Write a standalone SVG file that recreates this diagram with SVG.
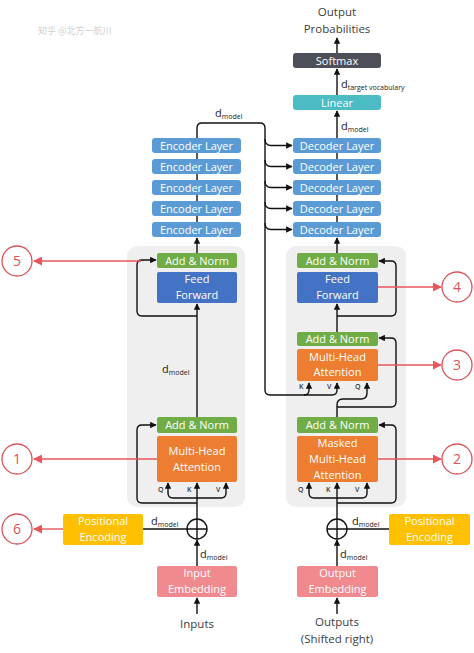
<svg xmlns="http://www.w3.org/2000/svg" width="474" height="653" viewBox="0 0 474 653">
<defs>
<marker id="ah" viewBox="0 0 10 10" refX="9" refY="5" markerWidth="6.5" markerHeight="6.5" markerUnits="userSpaceOnUse" orient="auto"><path d="M0,0 L10,5 L0,10 z" fill="#111"/></marker>
<marker id="rh" viewBox="0 0 10 10" refX="9" refY="5" markerWidth="9" markerHeight="9" markerUnits="userSpaceOnUse" orient="auto"><path d="M0,0 L10,5 L0,10 z" fill="#e8555b"/></marker>
<style>
text{font-family:"Open Sans","Noto Sans","DejaVu Sans",sans-serif}
.bt{fill:#fff;font-size:11px;text-anchor:middle}
.lb{fill:#404040;font-size:11.5px;text-anchor:middle}
.d{fill:#222;font-size:11px}
.d tspan{font-size:7px}
.qkv{fill:#333;font-size:7px;font-weight:600}
.ln{fill:none;stroke:#111;stroke-width:1.4}
.rd{fill:none;stroke:#e8555b;stroke-width:1.4}
.cir{fill:#fff;stroke:#d9545a;stroke-width:1.3}
.num{fill:#d9545a;font-size:14px;text-anchor:middle}
.enc{fill:#5b9bd5}.ff{fill:#4472c4}.an{fill:#70ad47}.mha{fill:#ed7d31}.pe{fill:#ffc000}.emb{fill:#f08a8f}
</style>
</defs>
<rect width="474" height="653" fill="#fff"/>
<text x="38" y="34" style="font-family:'Noto Sans CJK SC',sans-serif;font-size:9px;fill:#cfcfcf">知乎 @北方一航川</text>

<g id="enc-bg"><rect x="127" y="246" width="118" height="261" rx="10" fill="#efefef"/></g>
<g id="dec-bg"><rect x="286" y="246" width="120" height="261" rx="10" fill="#efefef"/></g>

<g id="connectors">
<path class="ln" d="M197,614 V598" marker-end="url(#ah)"/>
<path class="ln" d="M197,566 V540" marker-end="url(#ah)"/>
<path class="ln" d="M143,529 H187"/>
<path class="ln" d="M197,519 V483" marker-end="url(#ah)"/>
<path class="ln" d="M197,498 H173 Q168,498 168,493 V483" marker-end="url(#ah)"/>
<path class="ln" d="M197,498 H221 Q226,498 226,493 V483" marker-end="url(#ah)"/>
<path class="ln" d="M197,503 H142 Q137,503 137,498 V430 Q137,425 142,425 H156" marker-end="url(#ah)"/>
<path class="ln" d="M197,417 V304" marker-end="url(#ah)"/>
<path class="ln" d="M197,316 H142 Q137,316 137,311 V265 Q137,260 142,260 H156" marker-end="url(#ah)"/>
<path class="ln" d="M197,253 V238" marker-end="url(#ah)"/>
<path class="ln" d="M197,237 V128 Q197,123 202,123 H260 Q265,123 265,128 V390 Q265,395 270,395 H332 Q337,395 337,390 V383" marker-end="url(#ah)"/>
<path class="ln" d="M304,395 Q309,395 309,390 V383" marker-end="url(#ah)"/>
<path class="ln" d="M265,139 Q265,145.5 271,145.5 H292" marker-end="url(#ah)"/>
<path class="ln" d="M265,160 Q265,166.5 271,166.5 H292" marker-end="url(#ah)"/>
<path class="ln" d="M265,181 Q265,187.5 271,187.5 H292" marker-end="url(#ah)"/>
<path class="ln" d="M265,202 Q265,208.5 271,208.5 H292" marker-end="url(#ah)"/>
<path class="ln" d="M265,223 Q265,229.5 271,229.5 H292" marker-end="url(#ah)"/>
<path class="ln" d="M337,614 V598" marker-end="url(#ah)"/>
<path class="ln" d="M337,566 V540" marker-end="url(#ah)"/>
<path class="ln" d="M347,529 H389"/>
<path class="ln" d="M337,519 V483" marker-end="url(#ah)"/>
<path class="ln" d="M337,498 H314 Q309,498 309,493 V483" marker-end="url(#ah)"/>
<path class="ln" d="M337,498 H362 Q367,498 367,493 V483" marker-end="url(#ah)"/>
<path class="ln" d="M337,503 H391 Q396,503 396,498 V430 Q396,425 391,425 H379" marker-end="url(#ah)"/>
<path class="ln" d="M337,417 V405 Q337,399 343,399 H361 Q367,399 367,393 V383" marker-end="url(#ah)"/>
<path class="ln" d="M337,407 H391 Q396,407 396,402 V343 Q396,338 391,338 H379" marker-end="url(#ah)"/>
<path class="ln" d="M337,332 V304" marker-end="url(#ah)"/>
<path class="ln" d="M337,316 H391 Q396,316 396,311 V266 Q396,261 391,261 H379" marker-end="url(#ah)"/>
<path class="ln" d="M337,253 V238" marker-end="url(#ah)"/>
<path class="ln" d="M337,237 V138"/>
<path class="ln" d="M337,138 V111" marker-end="url(#ah)"/>
<path class="ln" d="M337,95 V69" marker-end="url(#ah)"/>
<path class="ln" d="M337,53 V38" marker-end="url(#ah)"/>
<path class="rd" d="M141,261 H34" marker-end="url(#rh)"/>
<path class="rd" d="M157,459 H34" marker-end="url(#rh)"/>
<path class="rd" d="M63,529 H34" marker-end="url(#rh)"/>
<path class="rd" d="M378,287 H441" marker-end="url(#rh)"/>
<path class="rd" d="M378,365 H441" marker-end="url(#rh)"/>
<path class="rd" d="M378,459 H441" marker-end="url(#rh)"/>
</g>

<g id="enc-layers">
<rect class="enc" x="152" y="138" width="89" height="15" rx="3"/><text class="bt" x="196.5" y="149.5">Encoder Layer</text>
<rect class="enc" x="152" y="159" width="89" height="15" rx="3"/><text class="bt" x="196.5" y="170.5">Encoder Layer</text>
<rect class="enc" x="152" y="180" width="89" height="15" rx="3"/><text class="bt" x="196.5" y="191.5">Encoder Layer</text>
<rect class="enc" x="152" y="201" width="89" height="15" rx="3"/><text class="bt" x="196.5" y="212.5">Encoder Layer</text>
<rect class="enc" x="152" y="222" width="89" height="15" rx="3"/><text class="bt" x="196.5" y="233.5">Encoder Layer</text>
</g>
<g id="dec-layers">
<rect class="enc" x="293" y="138" width="88" height="15" rx="3"/><text class="bt" x="337" y="149.5">Decoder Layer</text>
<rect class="enc" x="293" y="159" width="88" height="15" rx="3"/><text class="bt" x="337" y="170.5">Decoder Layer</text>
<rect class="enc" x="293" y="180" width="88" height="15" rx="3"/><text class="bt" x="337" y="191.5">Decoder Layer</text>
<rect class="enc" x="293" y="201" width="88" height="15" rx="3"/><text class="bt" x="337" y="212.5">Decoder Layer</text>
<rect class="enc" x="293" y="222" width="88" height="15" rx="3"/><text class="bt" x="337" y="233.5">Decoder Layer</text>
</g>
<g id="linear"><rect x="293" y="95" width="88" height="15" rx="3" fill="#4bbcc4"/><text class="bt" x="337" y="106.5">Linear</text></g>
<g id="softmax"><rect x="293" y="53" width="88" height="15" rx="3" fill="#4d4f59"/><text class="bt" x="337" y="64.5">Softmax</text></g>
<g id="output-prob"><text class="lb" x="337" y="16">Output</text><text class="lb" x="337" y="32.5">Probabilities</text></g>

<g id="enc-addnorm2"><rect class="an" x="157" y="253" width="80" height="15" rx="2"/><text class="bt" x="197" y="264.5">Add &amp; Norm</text></g>
<g id="enc-ff"><rect class="ff" x="157" y="272" width="80" height="31" rx="2"/><text class="bt" x="197" y="283">Feed</text><text class="bt" x="197" y="299">Forward</text></g>
<g id="enc-addnorm1"><rect class="an" x="157" y="417" width="80" height="16" rx="2"/><text class="bt" x="197" y="429">Add &amp; Norm</text></g>
<g id="enc-mha"><rect class="mha" x="157" y="436" width="80" height="46" rx="2"/><text class="bt" x="197" y="455">Multi-Head</text><text class="bt" x="197" y="471">Attention</text>
<text class="qkv" x="158" y="492">Q</text><text class="qkv" x="187" y="492">K</text><text class="qkv" x="216" y="492">V</text></g>
<g id="enc-plus"><circle cx="197" cy="529" r="10" fill="#fff" stroke="#111" stroke-width="1.4"/><path class="ln" d="M187,529 H207 M197,519 V539"/></g>
<g id="enc-pe"><rect class="pe" x="63" y="514" width="80" height="31" rx="2"/><text class="bt" x="103" y="525">Positional</text><text class="bt" x="103" y="541">Encoding</text></g>
<g id="enc-emb"><rect class="emb" x="157" y="566" width="80" height="31" rx="2"/><text class="bt" x="197" y="577">Input</text><text class="bt" x="197" y="593">Embedding</text></g>
<g id="inputs"><text class="lb" x="197" y="628">Inputs</text></g>

<g id="dec-addnorm3"><rect class="an" x="297" y="253" width="81" height="15" rx="2"/><text class="bt" x="337.5" y="264.5">Add &amp; Norm</text></g>
<g id="dec-ff"><rect class="ff" x="297" y="272" width="81" height="31" rx="2"/><text class="bt" x="337.5" y="283">Feed</text><text class="bt" x="337.5" y="299">Forward</text></g>
<g id="dec-addnorm2"><rect class="an" x="297" y="332" width="81" height="14" rx="2"/><text class="bt" x="337.5" y="343">Add &amp; Norm</text></g>
<g id="dec-mha"><rect class="mha" x="297" y="349" width="81" height="32" rx="2"/><text class="bt" x="337.5" y="361">Multi-Head</text><text class="bt" x="337.5" y="376">Attention</text>
<text class="qkv" x="299" y="389">K</text><text class="qkv" x="327" y="389">V</text><text class="qkv" x="355" y="389">Q</text></g>
<g id="dec-addnorm1"><rect class="an" x="297" y="417" width="81" height="16" rx="2"/><text class="bt" x="337.5" y="429">Add &amp; Norm</text></g>
<g id="dec-mmha"><rect class="mha" x="297" y="436" width="81" height="46" rx="2"/><text class="bt" x="337.5" y="447">Masked</text><text class="bt" x="337.5" y="463">Multi-Head</text><text class="bt" x="337.5" y="479">Attention</text>
<text class="qkv" x="298" y="492">Q</text><text class="qkv" x="326" y="492">K</text><text class="qkv" x="355" y="492">V</text></g>
<g id="dec-plus"><circle cx="337" cy="529" r="10" fill="#fff" stroke="#111" stroke-width="1.4"/><path class="ln" d="M327,529 H347 M337,519 V539"/></g>
<g id="dec-pe"><rect class="pe" x="389" y="514" width="81" height="31" rx="2"/><text class="bt" x="429.5" y="525">Positional</text><text class="bt" x="429.5" y="541">Encoding</text></g>
<g id="dec-emb"><rect class="emb" x="297" y="566" width="81" height="31" rx="2"/><text class="bt" x="337.5" y="577">Output</text><text class="bt" x="337.5" y="593">Embedding</text></g>
<g id="outputs"><text class="lb" x="337" y="626">Outputs</text><text class="lb" x="337" y="642.5">(Shifted right)</text></g>

<g id="labels">
<text class="d" x="215" y="117">d<tspan dy="2">model</tspan></text>
<text class="d" x="341" y="130">d<tspan dy="2">model</tspan></text>
<text class="d" x="341" y="88">d<tspan dy="2">target vocabulary</tspan></text>
<text class="d" x="162" y="373">d<tspan dy="2">model</tspan></text>
<text class="d" x="151" y="525">d<tspan dy="2">model</tspan></text>
<text class="d" x="200" y="558">d<tspan dy="2">model</tspan></text>
<text class="d" x="352" y="525">d<tspan dy="2">model</tspan></text>
<text class="d" x="340" y="558">d<tspan dy="2">model</tspan></text>
</g>

<g id="c1"><circle class="cir" cx="17" cy="459" r="15"/><text class="num" x="17" y="464">1</text></g>
<g id="c2"><circle class="cir" cx="457" cy="459" r="15"/><text class="num" x="457" y="464">2</text></g>
<g id="c3"><circle class="cir" cx="457" cy="365" r="15"/><text class="num" x="457" y="370">3</text></g>
<g id="c4"><circle class="cir" cx="457" cy="287" r="15"/><text class="num" x="457" y="292">4</text></g>
<g id="c5"><circle class="cir" cx="17" cy="261" r="15"/><text class="num" x="17" y="266">5</text></g>
<g id="c6"><circle class="cir" cx="17" cy="529" r="15"/><text class="num" x="17" y="534">6</text></g>
</svg>
